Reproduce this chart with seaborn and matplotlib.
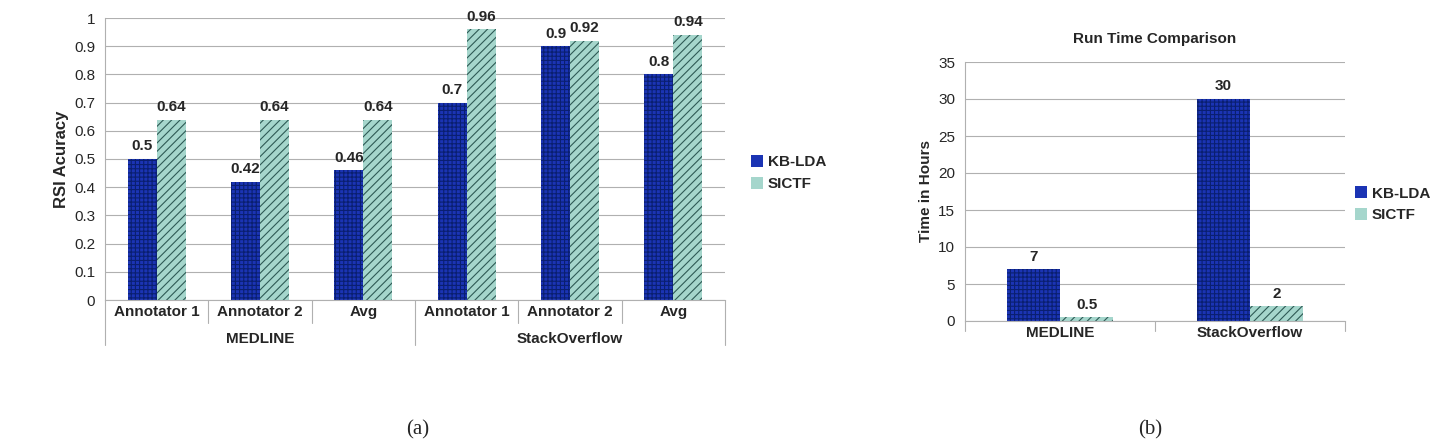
import matplotlib
matplotlib.use("Agg")
import matplotlib.pyplot as plt
import seaborn as sns
import pandas as pd

# data
acc_labels = ["Annotator 1", "Annotator 2", "Avg", "Annotator 1 ", "Annotator 2 ", "Avg "]
kb_acc = [0.5, 0.42, 0.46, 0.7, 0.9, 0.8]
sictf_acc = [0.64, 0.64, 0.64, 0.96, 0.92, 0.94]
datasets = ["MEDLINE", "StackOverflow"]
kb_time = [7, 30]
sictf_time = [0.5, 2]
methods = ["KB-LDA", "SICTF"]

sns.set_style("white")
plt.rcParams['font.family'] = ['Liberation Sans', 'DejaVu Sans']
plt.rcParams['hatch.linewidth'] = 0.8

fig = plt.figure(figsize=(14.39, 4.43), dpi=100)
ax1 = fig.add_axes([105/1439, 1-300/443, 620/1439, 282/443])
ax2 = fig.add_axes([965/1439, 1-321/443, 380/1439, 259/443])

colors = ["#1b34b4", "#a5d6cc"]
hatches = ["++++", "////"]


def draw(ax, cats, a, b, ylim, step, fmt, leg_x):
    df = pd.DataFrame({"cat": cats * 2, "method": [methods[0]] * len(cats) + [methods[1]] * len(cats),
                       "val": a + b})
    sns.barplot(data=df, x="cat", y="val", hue="method", palette=colors, ax=ax,
                width=0.56, edgecolor="none", linewidth=0, saturation=1)
    for i, cont in enumerate(ax.containers):
        for p in cont:
            p.set_hatch(hatches[i])
            p.set_edgecolor("#0a1f70" if i == 0 else "#2e5a55")
            p.set_linewidth(0)
        ax.bar_label(cont, labels=[fmt(v) for v in (a if i == 0 else b)], padding=4,
                     fontsize=11, fontweight="bold")
    ax.set_ylim(*ylim)
    ticks = [round(step * k, 2) for k in range(int(round(ylim[1] / step)) + 1)]
    ax.set_yticks(ticks)
    ax.set_yticklabels([f"{t:g}" for t in ticks], fontsize=11)
    ax.yaxis.grid(True, color="#b0b0b0", linewidth=0.8)
    ax.set_axisbelow(True)
    for s in ["top", "right"]:
        ax.spines[s].set_visible(False)
    ax.spines["left"].set_color("#b0b0b0")
    ax.spines["bottom"].set_color("#b0b0b0")
    ax.set_xlabel("")
    ax.tick_params(axis="x", labelsize=11, length=0)
    for t in ax.get_xticklabels():
        t.set_fontweight("bold")
    ax.legend(loc="center left", bbox_to_anchor=(leg_x, 0.45), frameon=False,
              handlelength=0.8, handleheight=0.8, handletextpad=0.3,
              prop={"weight": "bold", "size": 11})


draw(ax1, acc_labels, kb_acc, sictf_acc, (0, 1), 0.1, lambda v: f"{v:g}", 1.02)
ax1.set_ylabel("RSI Acuracy", fontsize=12, fontweight="bold")
ax1.set_xticks(range(6))
ax1.set_xticklabels([l.strip() for l in acc_labels], fontweight="bold")
# group labels and separators
for i, g in enumerate(datasets):
    ax1.text(1 + 3 * i, -0.115, g, ha="center", va="top", fontsize=11, fontweight="bold",
             transform=ax1.get_xaxis_transform())
for xs in [-0.5, 2.5, 5.5]:
    ax1.plot([xs, xs], [0, -0.16], color="#b0b0b0", lw=0.8, clip_on=False,
             transform=ax1.get_xaxis_transform())
for xs in [0.5, 1.5, 3.5, 4.5]:
    ax1.plot([xs, xs], [0, -0.08], color="#b0b0b0", lw=0.8, clip_on=False,
             transform=ax1.get_xaxis_transform())
ax1.set_xlim(-0.5, 5.5)

draw(ax2, datasets, kb_time, sictf_time, (0, 35), 5, lambda v: f"{v:g}", 0.99)
ax2.set_ylabel("Time in Hours", fontsize=11, fontweight="bold")
ax2.set_title("Run Time Comparison", fontsize=11, fontweight="bold", pad=14)
ax2.set_xlim(-0.5, 1.5)
for xs in [-0.5, 0.5, 1.5]:
    ax2.plot([xs, xs], [0, -0.04], color="#b0b0b0", lw=0.8, clip_on=False,
             transform=ax2.get_xaxis_transform())

fig.text(418/1439, 1-430/443, "(a)", ha="center", va="center", fontsize=15, family="Liberation Serif")
fig.text(1150/1439, 1-430/443, "(b)", ha="center", va="center", fontsize=15, family="Liberation Serif")

fig.savefig("out.png", dpi=100)
